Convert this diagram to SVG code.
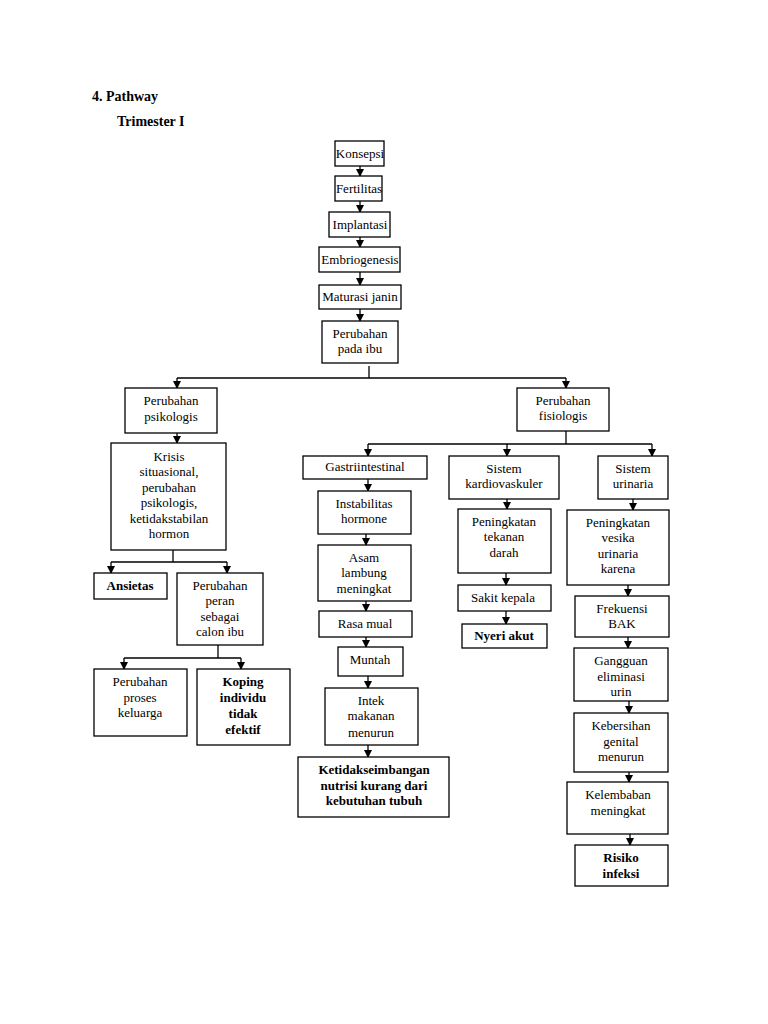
<svg xmlns="http://www.w3.org/2000/svg" width="768" height="1024" viewBox="0 0 768 1024">
<style>
rect{fill:#fff;stroke:#000;stroke-width:1.3}
text{font-family:"Liberation Serif",serif;font-size:13px;text-anchor:middle;fill:#000}
.b{font-weight:bold}
.h{text-anchor:start;font-weight:bold;font-size:14px}
#c line{stroke:#000;stroke-width:1.3}
#c line.a{marker-end:url(#ar)}
</style>
<defs><marker id="ar" markerWidth="8" markerHeight="8" refX="7" refY="4" orient="auto" markerUnits="userSpaceOnUse"><path d="M0,0L8,4L0,8z" fill="#000"/></marker></defs>
<rect x="0" y="0" width="768" height="1024" style="stroke:none"/>
<text class="h" x="92" y="101">4. Pathway</text>
<text class="h" x="117" y="126">Trimester I</text>
<g id="c">
<line class="a" x1="360" y1="166" x2="360" y2="176"/>
<line class="a" x1="360" y1="201" x2="360" y2="212"/>
<line class="a" x1="360" y1="237" x2="360" y2="247"/>
<line class="a" x1="360" y1="272" x2="360" y2="285"/>
<line class="a" x1="360" y1="309" x2="360" y2="321"/>
<line x1="369" y1="366" x2="369" y2="378"/>
<line x1="177" y1="378" x2="566" y2="378"/>
<line class="a" x1="177" y1="378" x2="177" y2="388"/>
<line class="a" x1="566" y1="378" x2="566" y2="388"/>
<line class="a" x1="177" y1="433" x2="177" y2="443"/>
<line x1="173" y1="550" x2="173" y2="562"/>
<line x1="111" y1="562" x2="227" y2="562"/>
<line class="a" x1="111" y1="562" x2="111" y2="573"/>
<line class="a" x1="227" y1="562" x2="227" y2="573"/>
<line x1="218" y1="645" x2="218" y2="658"/>
<line x1="124" y1="658" x2="241" y2="658"/>
<line class="a" x1="124" y1="658" x2="124" y2="669"/>
<line class="a" x1="241" y1="658" x2="241" y2="669"/>
<line x1="566" y1="431" x2="566" y2="444"/>
<line x1="368" y1="444" x2="652" y2="444"/>
<line class="a" x1="368" y1="444" x2="368" y2="456"/>
<line class="a" x1="507" y1="444" x2="507" y2="456"/>
<line class="a" x1="652" y1="444" x2="652" y2="456"/>
<line class="a" x1="368" y1="479" x2="368" y2="491"/>
<line class="a" x1="366" y1="534" x2="366" y2="545"/>
<line class="a" x1="366" y1="601" x2="366" y2="611"/>
<line class="a" x1="366" y1="637" x2="366" y2="647"/>
<line class="a" x1="368" y1="676" x2="368" y2="688"/>
<line class="a" x1="368" y1="745" x2="368" y2="757"/>
<line class="a" x1="507" y1="499" x2="507" y2="509"/>
<line class="a" x1="506" y1="573" x2="506" y2="585"/>
<line class="a" x1="506" y1="611" x2="506" y2="624"/>
<line class="a" x1="633" y1="499" x2="633" y2="510"/>
<line class="a" x1="628" y1="585" x2="628" y2="596"/>
<line class="a" x1="628" y1="637" x2="628" y2="648"/>
<line class="a" x1="629" y1="701" x2="629" y2="713"/>
<line class="a" x1="629" y1="772" x2="629" y2="782"/>
<line class="a" x1="630" y1="834" x2="630" y2="845"/>
</g>
<g id="n1"><rect x="335" y="141" width="49" height="25"/><text x="360" y="158">Konsepsi</text></g>
<g id="n2"><rect x="335" y="176" width="47" height="25"/><text x="359" y="193">Fertilitas</text></g>
<g id="n3"><rect x="329" y="212" width="61" height="25"/><text x="360" y="229">Implantasi</text></g>
<g id="n4"><rect x="319" y="247" width="81" height="25"/><text x="360" y="264">Embriogenesis</text></g>
<g id="n5"><rect x="319" y="285" width="82" height="24"/><text x="360" y="301">Maturasi janin</text></g>
<g id="n6"><rect x="322" y="321" width="76" height="42"/><text x="360" y="338">Perubahan</text><text x="360" y="353">pada ibu</text></g>
<g id="n7"><rect x="125" y="388" width="92" height="45"/><text x="171" y="405">Perubahan</text><text x="171" y="421">psikologis</text></g>
<g id="n8"><rect x="517" y="388" width="92" height="43"/><text x="563" y="405">Perubahan</text><text x="563" y="420">fisiologis</text></g>
<g id="n9"><rect x="111" y="443" width="115" height="107"/><text x="169" y="461">Krisis</text><text x="169" y="476">situasional,</text><text x="169" y="492">perubahan</text><text x="169" y="507">psikologis,</text><text x="169" y="523">ketidakstabilan</text><text x="169" y="538">hormon</text></g>
<g id="n10"><rect x="94" y="573" width="73" height="26"/><text class="b" x="130" y="590">Ansietas</text></g>
<g id="n11"><rect x="177" y="573" width="86" height="72"/><text x="220" y="590">Perubahan</text><text x="220" y="605">peran</text><text x="220" y="621">sebagai</text><text x="220" y="636">calon ibu</text></g>
<g id="n12"><rect x="94" y="669" width="93" height="67"/><text x="140" y="686">Perubahan</text><text x="140" y="702">proses</text><text x="140" y="717">keluarga</text></g>
<g id="n13"><rect x="197" y="669" width="93" height="76"/><text class="b" x="243" y="686">Koping</text><text class="b" x="243" y="702">individu</text><text class="b" x="243" y="718">tidak</text><text class="b" x="243" y="734">efektif</text></g>
<g id="n14"><rect x="303" y="456" width="124" height="23"/><text x="365" y="471">Gastriintestinal</text></g>
<g id="n15"><rect x="318" y="491" width="93" height="43"/><text x="364" y="508">Instabilitas</text><text x="364" y="523">hormone</text></g>
<g id="n16"><rect x="318" y="545" width="93" height="56"/><text x="364" y="562">Asam</text><text x="364" y="577">lambung</text><text x="364" y="593">meningkat</text></g>
<g id="n17"><rect x="319" y="611" width="93" height="26"/><text x="365" y="628">Rasa mual</text></g>
<g id="n18"><rect x="338" y="647" width="65" height="29"/><text x="370" y="664">Muntah</text></g>
<g id="n19"><rect x="325" y="688" width="93" height="57"/><text x="371" y="705">Intek</text><text x="371" y="720">makanan</text><text x="371" y="737">menurun</text></g>
<g id="n20"><rect x="298" y="757" width="151" height="60"/><text class="b" x="374" y="774">Ketidakseimbangan</text><text class="b" x="374" y="790">nutrisi kurang dari</text><text class="b" x="374" y="805">kebutuhan tubuh</text></g>
<g id="n21"><rect x="449" y="456" width="110" height="43"/><text x="504" y="473">Sistem</text><text x="504" y="488">kardiovaskuler</text></g>
<g id="n22"><rect x="458" y="509" width="93" height="64"/><text x="504" y="526">Peningkatan</text><text x="504" y="541">tekanan</text><text x="504" y="557">darah</text></g>
<g id="n23"><rect x="458" y="585" width="93" height="26"/><text x="503" y="602">Sakit kepala</text></g>
<g id="n24"><rect x="462" y="624" width="85" height="24"/><text class="b" x="504" y="640">Nyeri akut</text></g>
<g id="n25"><rect x="598" y="456" width="70" height="43"/><text x="633" y="473">Sistem</text><text x="633" y="488">urinaria</text></g>
<g id="n26"><rect x="567" y="510" width="102" height="75"/><text x="618" y="527">Peningkatan</text><text x="618" y="542">vesika</text><text x="618" y="558">urinaria</text><text x="618" y="573">karena</text></g>
<g id="n27"><rect x="575" y="596" width="94" height="41"/><text x="622" y="613">Frekuensi</text><text x="622" y="628">BAK</text></g>
<g id="n28"><rect x="574" y="648" width="94" height="53"/><text x="621" y="665">Gangguan</text><text x="621" y="681">eliminasi</text><text x="621" y="696">urin</text></g>
<g id="n29"><rect x="574" y="713" width="94" height="59"/><text x="621" y="730">Kebersihan</text><text x="621" y="746">genital</text><text x="621" y="761">menurun</text></g>
<g id="n30"><rect x="567" y="782" width="101" height="52"/><text x="618" y="799">Kelembaban</text><text x="618" y="815">meningkat</text></g>
<g id="n31"><rect x="575" y="845" width="93" height="41"/><text class="b" x="621" y="862">Risiko</text><text class="b" x="621" y="878">infeksi</text></g>
</svg>
